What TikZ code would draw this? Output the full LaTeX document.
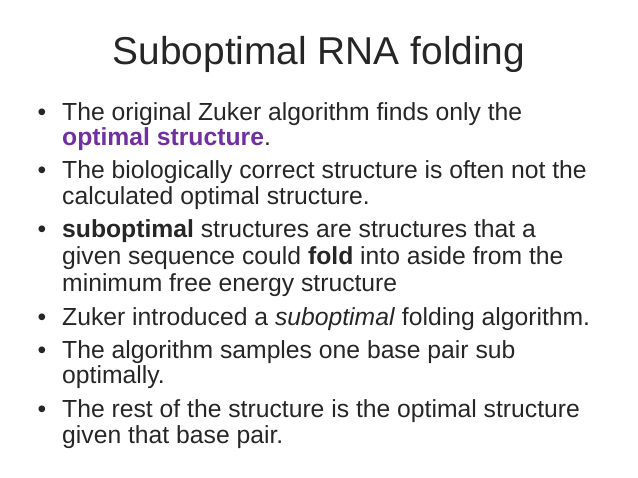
\documentclass[tikz,border=0pt]{standalone}
\usepackage{fontspec}
\setmainfont{Liberation Sans}
\definecolor{txt}{HTML}{262626}
\definecolor{purp}{HTML}{7030A0}
\begin{document}
\begin{tikzpicture}[x=1bp,y=-1bp,
  ln/.style={anchor=base west,inner sep=0,text=txt,font=\fontsize{24.8}{28}\selectfont},
  bul/.style={anchor=base,inner sep=0,text=txt,font=\fontsize{24.8}{28}\selectfont}]
\useasboundingbox (0,0) rectangle (638,478);
\node[anchor=base,inner sep=0,text=txt,font=\fontsize{39}{44}\selectfont] (title) at (319,65) {Suboptimal RNA folding};
\foreach \y in {121,179,238,325,358,417} \node[bul] at (42,\y) {•};
\node[ln] (l1) at (62,121) {The original Zuker algorithm finds only the};
\node[ln] (l2) at (62,146) {\textcolor{purp}{\bfseries optimal structure}.};
\node[ln] (l3) at (62,179) {The biologically correct structure is often not the};
\node[ln] (l4) at (62,205) {calculated optimal structure.};
\node[ln] (l5) at (62,238) {\bfseries suboptimal\mdseries{} structures are structures that a};
\node[ln] (l6) at (62,264) {given sequence could \textbf{fold} into aside from the};
\node[ln] (l7) at (62,291) {minimum free energy structure};
\node[ln] (l8) at (62,325) {Zuker introduced a \textit{suboptimal} folding algorithm.};
\node[ln] (l9) at (62,358) {The algorithm samples one base pair sub};
\node[ln] (l10) at (62,383) {optimally.};
\node[ln] (l11) at (62,417) {The rest of the structure is the optimal structure};
\node[ln] (l12) at (62,443) {given that base pair.};
\end{tikzpicture}
\end{document}
